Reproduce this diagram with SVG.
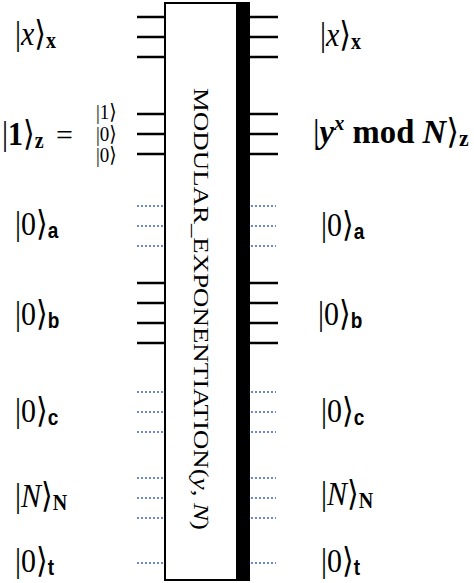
<svg xmlns="http://www.w3.org/2000/svg" width="474" height="583" viewBox="0 0 474 583">
<style>
.k{font-family:"Liberation Serif","DejaVu Serif",serif;font-size:30px;fill:#000}
.i{font-style:italic}
.b{font-weight:bold}
.ss{font-family:"Liberation Serif","DejaVu Serif",serif;font-weight:bold;font-size:20px}
.sa{font-family:"Liberation Sans","DejaVu Sans",sans-serif;font-weight:bold;font-size:19px}
.sm{font-family:"Liberation Serif","DejaVu Serif",serif;font-size:19px;fill:#000}
.w{stroke:#000;stroke-width:2.5;fill:none}
.d{stroke:#3a62c9;stroke-width:1.6;stroke-dasharray:2 2;fill:none}
</style>
<rect width="474" height="583" fill="#fff"/>
<g id="wires">
  <path class="w" d="M137 17H165M137 37H165M137 57H165M137 114H165M137 134H165M137 154H165M137 283H165M137 303H165M137 323H165M137 343H165"/>
  <path class="w" d="M250 17H278M250 37H278M250 57H278M250 114H278M250 134H278M250 154H278M250 283H278M250 303H278M250 323H278M250 343H278"/>
  <path class="d" d="M137 206H164M137 226H164M137 246H164M137 392H164M137 412H164M137 432H164M137 478H164M137 498H164M137 518H164M137 563H164"/>
  <path class="d" d="M251 206H276M251 226H276M251 246H276M251 392H276M251 412H276M251 432H276M251 478H276M251 498H276M251 518H276M251 563H276"/>
</g>
<g id="gate">
  <rect x="165" y="3" width="74" height="577" fill="#fff" stroke="#000" stroke-width="2"/>
  <rect x="236" y="2" width="14" height="579" fill="#000"/>
  <text transform="translate(193.5,88) rotate(90)" font-family="Liberation Serif, DejaVu Serif, serif" font-size="21" textLength="442" lengthAdjust="spacingAndGlyphs">MODULAR_EXPONENTIATION(<tspan font-style="italic">y</tspan>, <tspan font-style="italic">N</tspan>)</text>
</g>
<g id="in-x"><text class="k" transform="translate(15,45) scale(1,1.15)">|<tspan class="i">x</tspan>⟩<tspan class="ss" dy="3">x</tspan></text></g>
<g id="in-z">
  <text class="k" transform="translate(2,145) scale(1,1.15)">|<tspan class="b">1</tspan>⟩<tspan class="ss" dy="3">z</tspan></text>
  <text class="k" x="56" y="145">=</text>
  <text class="sm" transform="translate(96,119) scale(1,1.1)">|1⟩</text>
  <text class="sm" transform="translate(96,141) scale(1,1.1)">|0⟩</text>
  <text class="sm" transform="translate(96,162) scale(1,1.1)">|0⟩</text>
</g>
<g id="in-a"><text class="k" transform="translate(15,235) scale(1,1.15)">|0⟩<tspan class="sa" dy="3">a</tspan></text></g>
<g id="in-b"><text class="k" transform="translate(15,325) scale(1,1.15)">|0⟩<tspan class="sa" dy="3">b</tspan></text></g>
<g id="in-c"><text class="k" transform="translate(15,422) scale(1,1.15)">|0⟩<tspan class="sa" dy="3">c</tspan></text></g>
<g id="in-N"><text class="k" transform="translate(15,507) scale(1,1.15)">|<tspan class="i">N</tspan>⟩<tspan class="ss" dy="3">N</tspan></text></g>
<g id="in-t"><text class="k" transform="translate(15,572) scale(1,1.15)">|0⟩<tspan class="sa" dy="3">t</tspan></text></g>
<g id="out-x"><text class="k" transform="translate(320,46) scale(1,1.15)">|<tspan class="i">x</tspan>⟩<tspan class="ss" dy="3">x</tspan></text></g>
<g id="out-z"><text class="k" transform="translate(313,143) scale(1.09,1.15)">|<tspan class="b i">y</tspan><tspan class="b i" font-size="19" dy="-11">x</tspan><tspan class="b" dy="11"> mod </tspan><tspan class="b i">N</tspan>⟩<tspan class="ss" dy="3">z</tspan></text></g>
<g id="out-a"><text class="k" transform="translate(321,236) scale(1,1.15)">|0⟩<tspan class="sa" dy="3">a</tspan></text></g>
<g id="out-b"><text class="k" transform="translate(318,325) scale(1,1.15)">|0⟩<tspan class="sa" dy="3">b</tspan></text></g>
<g id="out-c"><text class="k" transform="translate(321,422) scale(1,1.15)">|0⟩<tspan class="sa" dy="3">c</tspan></text></g>
<g id="out-N"><text class="k" transform="translate(321,505) scale(1,1.15)">|<tspan class="i">N</tspan>⟩<tspan class="ss" dy="3">N</tspan></text></g>
<g id="out-t"><text class="k" transform="translate(321,572) scale(1,1.15)">|0⟩<tspan class="sa" dy="3">t</tspan></text></g>
</svg>
